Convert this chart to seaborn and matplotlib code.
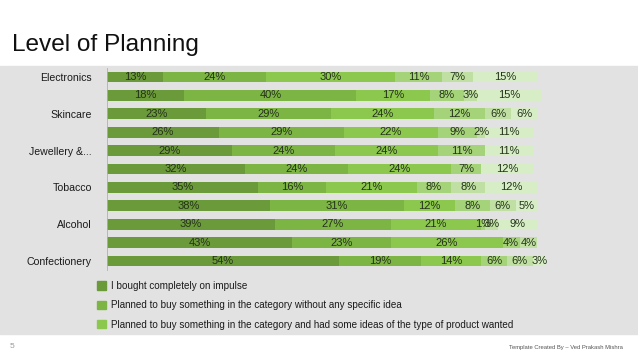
import numpy as np
import pandas as pd
import matplotlib.pyplot as plt
import seaborn as sns
from matplotlib.patches import Rectangle

# data (row 0 = top bar)
row_labels = ["Electronics", "", "Skincare", "", "Jewellery &...", "",
              "Tobacco", "", "Alcohol", "", "Confectionery"]
impulse = [13, 18, 23, 26, 29, 32, 35, 38, 39, 43, 54]
no_idea = [24, 40, 29, 29, 24, 24, 16, 31, 27, 23, 19]
some_idea = [30, 17, 24, 22, 24, 24, 21, 12, 21, 26, 14]
seg4 = [11, 8, 12, 9, 11, 7, 8, 8, 1, 4, 6]
seg5 = [7, 3, 6, 2, 0, 0, 8, 6, 3, 4, 6]
seg6 = [15, 15, 6, 11, 11, 12, 12, 5, 9, 0, 3]
legend_labels = [
    "I bought completely on impulse",
    "Planned to buy something in the category without any specific idea",
    "Planned to buy something in the category and had some ideas of the type of product wanted",
]

series = [impulse, no_idea, some_idea, seg4, seg5, seg6]
colors = ["#6b9a3a", "#7db545", "#8cc74e", "#a5d379", "#bfe0a2", "#d6edc6"]

sns.set_theme(style="white")
plt.rcParams["font.family"] = ["Liberation Sans", "DejaVu Sans"]

W, H = 638, 359
fig = plt.figure(figsize=(W / 100, H / 100), dpi=100)
fig.patch.set_facecolor("white")

# grey content panel
panel = Rectangle((0, 1 - 334 / H), 1, (334 - 66) / H,
                  transform=fig.transFigure, color="#e2e2e2", zorder=-10)
fig.add_artist(panel)

xmax = 105
ax = fig.add_axes([107 / W, 1 - 270.2 / H, 430 * xmax / 100 / W, 202.4 / H])
ax.set_facecolor("none")

df = pd.DataFrame({"row": list(range(len(row_labels)))})
cum = np.cumsum(np.array(series), axis=0)

# overlay cumulative bars, widest first
for i in range(len(series) - 1, -1, -1):
    df["val"] = cum[i]
    sns.barplot(data=df, x="val", y="row", orient="h", color=colors[i],
                saturation=1, width=0.58, ax=ax, linewidth=0)

for i, s in enumerate(series):
    for r, v in enumerate(s):
        if v > 0:
            ax.text(cum[i][r] - v / 2, r, f"{v}%", ha="center", va="center",
                    fontsize=8, color="#24321a")

ax.set_xlim(0, xmax)
ax.set_xticks([])
ax.set_yticks(range(len(row_labels)))
ax.set_yticklabels(row_labels, fontsize=7.6, color="#1a1a1a")
ax.tick_params(axis="y", length=0, pad=11)
ax.set_xlabel("")
ax.set_ylabel("")
for side in ["top", "right", "bottom"]:
    ax.spines[side].set_visible(False)
ax.spines["left"].set_color("#b0b0b0")
ax.spines["left"].set_linewidth(0.6)

handles = [Rectangle((0, 0), 1, 1, color=c) for c in colors[:3]]
fig.legend(handles, legend_labels, loc="upper left",
           bbox_to_anchor=(92 / W, 1 - 276 / H), frameon=False,
           fontsize=7.1, handlelength=0.9, handleheight=0.9,
           handletextpad=0.55, labelspacing=0.95, borderpad=0,
           labelcolor="#1a1a1a")

fig.text(12 / W, 1 - 45 / H, "Level of Planning", fontsize=17.6,
         color="#111111", va="center", ha="left")
fig.text(10 / W, 1 - 347 / H, "5", fontsize=6, color="#9a9a9a",
         va="center", ha="left")
fig.text(623 / W, 1 - 348 / H, "Template Created By \u2013 Ved Prakash Mishra",
         fontsize=4.2, color="#555555", va="center", ha="right")

fig.savefig("out.png", dpi=100)
